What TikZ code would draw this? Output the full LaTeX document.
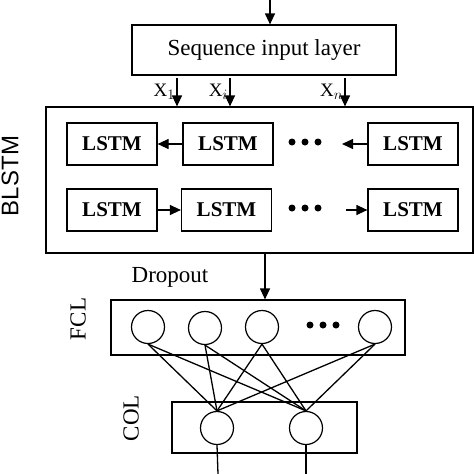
\documentclass[tikz,border=0pt]{standalone}
\usepackage{fontspec}
\setmainfont{Liberation Serif}
\newfontfamily\blstmfont{Liberation Sans}
\usepackage{tikz}
\usetikzlibrary{calc}
\usetikzlibrary{positioning}
\usetikzlibrary{arrows.meta}

\tikzset{
	box/.style={draw, line width=1.2pt, inner sep=0pt},
	lstm/.style={box, minimum width=90pt, minimum height=42pt, font=\fontsize{21}{22}\selectfont\bfseries},
	neuron/.style={draw, line width=1.2pt, circle, minimum size=33pt, inner sep=0pt},
	arr/.style={line width=1.2pt, -{Triangle[length=11pt,width=10pt]}},
	link/.style={line width=1.3pt},
	dot/.style={fill, circle, minimum size=7pt, inner sep=0pt},
	lbl/.style={font=\fontsize{23}{24}\selectfont},
}

\begin{document}
\begin{tikzpicture}[x=1pt, y=-1pt]
		\useasboundingbox (0,0) rectangle (474,474);

		\coordinate (in) at (270,0);
		\node[box, lbl, minimum width=264pt, minimum height=50pt] (seq) at (264,50) {Sequence input layer};
		\draw[arr] (in) -- (in |- seq.north);

		% BLSTM block
		\node[box, minimum width=427pt, minimum height=146pt] (blstm) at (259.5,180) {};
		\node[rotate=90, font=\fontsize{24}{25}\blstmfont] (blstmlabel) at (10,176) {BLSTM};

		\node[lstm] (A1) at (112,144) {LSTM};
		\node[lstm] (A2) at (228,144) {LSTM};
		\node[lstm] (A3) at (413,144) {LSTM};
		\node[lstm] (B1) at (112,210) {LSTM};
		\node[lstm] (B2) at (226.5,210) {LSTM};
		\node[lstm] (B3) at (413,210) {LSTM};

		\draw[arr] (A2.west) -- (A1.east);
		\coordinate (Aend) at (342,144);
		\draw[arr] (A3.west) -- (Aend);
		\draw[arr] (B1.east) -- (B2.west);
		\coordinate (Bstart) at (346,210);
		\draw[arr] (Bstart) -- (B3.west);

		\foreach \x [count=\i] in {292,305,318} {
			\node[dot] (da\i) at (\x,142) {};
			\node[dot] (db\i) at (\x,208) {};
		}

		% inputs
		\foreach \x/\lab [count=\i] in {177/1,230/i,345/n} {
			\coordinate (xt\i) at (\x,78);
			\draw[arr] (xt\i) -- (xt\i |- blstm.north);
			\node[anchor=east, inner sep=1pt, font=\fontsize{19}{20}\selectfont] (xl\i) at (\x-1,92) {X$_{\lab}$};
		}

		% FCL
		\node[box, minimum width=294pt, minimum height=55pt] (fcl) at (258,327.5) {};
		\node[rotate=90, lbl] (fcllabel) at (78,319) {FCL};
		\node[lbl] (drop) at (170,277) {Dropout};
		\draw[arr] (blstm.south -| 265,0) -- (fcl.north -| 265,0);

		\node[neuron] (f1) at (148,327) {};
		\node[neuron] (f2) at (205,328) {};
		\node[neuron] (f3) at (262,327) {};
		\node[neuron] (f4) at (375,327) {};
		\foreach \x [count=\i] in {310,323,336} {
			\node[dot] (df\i) at (\x,325) {};
		}

		% COL
		\node[box, minimum width=185pt, minimum height=51pt] (col) at (264.5,427.5) {};
		\node[rotate=90, lbl] (collabel) at (131,418) {COL};
		\node[neuron] (c1) at (217,428) {};
		\node[neuron] (c2) at (306,428) {};

		\foreach \f in {f1,f2,f3,f4} {
			\draw[link] (\f.south) -- (c1.north);
			\draw[link] (\f.south) -- (c2.north);
		}

		\coordinate (o1) at (218,474);
		\coordinate (o2) at (306,474);
		\draw[link] (c1.south) -- (o1);
		\draw[link] (c2.south) -- (o2);
\end{tikzpicture}
\end{document}
